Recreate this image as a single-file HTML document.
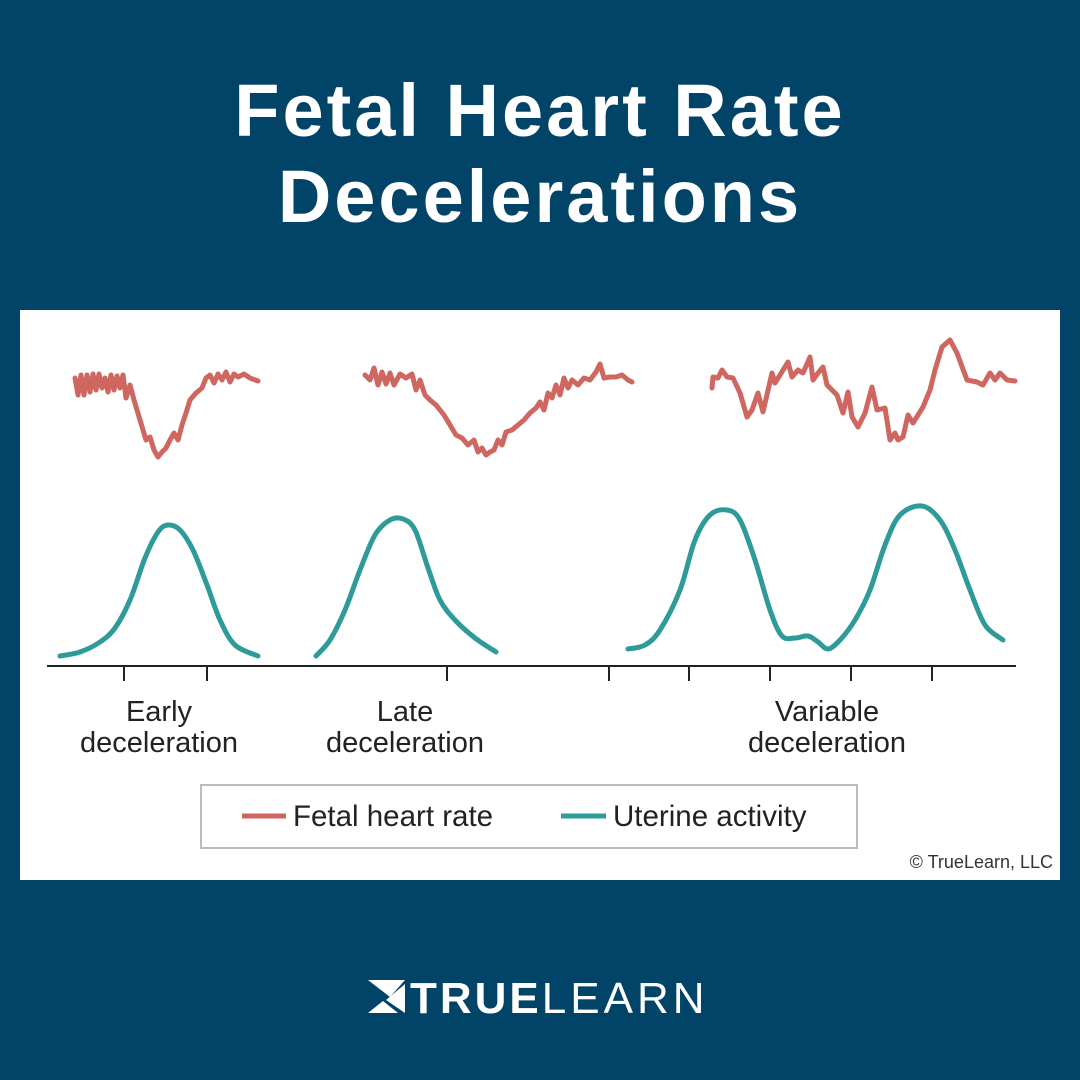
<!DOCTYPE html>
<html><head><meta charset="utf-8"><style>
html,body{margin:0;padding:0}
body{width:1080px;height:1080px;background:#014468;position:relative;overflow:hidden;font-family:"Liberation Sans",sans-serif}
.title{position:absolute;left:0;width:1080px;text-align:center;color:#fff;font-weight:bold;font-size:74px;letter-spacing:3px}
</style></head><body>
<div class="title" style="top:68px">Fetal Heart Rate</div>
<div class="title" style="top:154px">Decelerations</div>
<svg id="chart" width="1080" height="1080" style="position:absolute;left:0;top:0">
<rect x="20" y="310" width="1040" height="570" fill="#fff"/>
<line x1="47" y1="666" x2="1016" y2="666" stroke="#222" stroke-width="2"/>
<g id="ticks"></g><g id="series"></g>
<g font-size="29" fill="#222" text-anchor="middle">
<text x="159" y="721">Early</text>
<text x="159" y="752">deceleration</text>
<text x="405" y="721">Late</text>
<text x="405" y="752">deceleration</text>
<text x="827" y="721">Variable</text>
<text x="827" y="752">deceleration</text>
</g>
<g>
<rect x="201" y="785" width="656" height="63" fill="#fff" stroke="#bbb" stroke-width="2"/>
<line x1="242" y1="816" x2="286" y2="816" stroke="#cf6660" stroke-width="5"/>
<text x="293" y="826" font-size="29.5" fill="#222">Fetal heart rate</text>
<line x1="561" y1="816" x2="606" y2="816" stroke="#2e9a9a" stroke-width="5"/>
<text x="613" y="826" font-size="29.5" fill="#222">Uterine activity</text>
</g>
<text x="1053" y="868" font-size="18" fill="#333" text-anchor="end">© TrueLearn, LLC</text>
<g>
<polygon points="368,980 405,980 390,997" fill="#fff"/>
<polygon points="386,1000 405,984 405,1013" fill="#fff"/>
<polygon points="368,1013 383,1001 398,1013" fill="#fff"/>
<text x="410" y="1013" font-size="44" fill="#fff" font-weight="bold" letter-spacing="3">TRUE<tspan font-weight="normal" letter-spacing="4">LEARN</tspan></text>
</g>
</svg>
<script>
const tickTimes=[104,187,427,589,669,750,831,912];
const earlyT=[55,58,61,64,67,70,73,76,79,82,85,88,91,94,97,100,103,106,110,114,120,126,130,134,138,142,146,150,154,158,162,166,170,176,182,186,190,194,198,202,206,210,214,218,224,230,238];
const earlyFhr=[102,85,105,85,105,88,106,90,106,92,102,88,105,90,104,92,105,82,95,80,60,40,43,30,23,28,32,40,47,40,55,67,80,87,92,102,105,97,106,100,108,98,106,103,106,102,99];
const lateT=[345,350,354,358,362,366,370,374,380,386,392,396,400,405,410,416,424,430,436,442,448,454,458,462,466,470,474,478,482,486,492,498,504,510,516,520,524,528,532,536,540,544,548,552,558,564,570,576,580,584,590,596,602,608,612];
const lateFhr=[105,100,112,95,108,96,107,95,106,102,106,90,100,85,80,75,65,55,45,42,35,40,28,32,25,28,30,40,35,48,50,55,60,67,72,78,70,87,82,95,85,102,92,100,95,102,100,108,116,102,103,103,105,100,98];
const varT=[692,693,698,702,707,713,720,727,732,738,743,752,755,760,768,772,778,783,790,793,798,803,807,817,823,828,832,838,845,852,857,865,870,875,878,883,888,893,903,910,915,922,930,937,947,957,963,970,975,980,987,995];
const varFhr=[92,103,102,110,103,102,87,63,70,87,68,107,97,105,118,103,110,107,123,100,107,113,95,85,67,88,63,53,67,93,70,72,40,47,40,43,65,57,73,90,110,133,140,127,100,98,95,107,100,107,100,99];
const uaEarlyT=[40,60,80,95,110,125,138,148,160,173,187,200,215,238];
const uaEarly=[14,18,28,42,70,112,138,145,140,120,85,50,25,14];
const uaLateT=[296,310,325,340,355,370,383,395,408,420,435,455,476];
const uaLate=[14,30,60,100,135,150,151,140,102,70,50,32,18];
const uaVarT=[608,625,640,660,675,690,707,720,735,750,762,775,788,798,808,820,835,850,865,880,902,920,935,950,965,983];
const uaVar=[21,25,40,80,130,155,160,150,110,60,34,32,34,28,21,30,50,80,125,155,164,150,120,80,45,30];
const xS=t=>20+t, yF=v=>480-v, yU=v=>670-v;
const NS='http://www.w3.org/2000/svg';
const tg=document.getElementById('ticks'),sg=document.getElementById('series');
tickTimes.forEach(t=>{const l=document.createElementNS(NS,'line');


l.setAttribute('x1',xS(t));l.setAttribute('x2',xS(t));l.setAttribute('y1',666);l.setAttribute('y2',681);l.setAttribute('stroke','#222');l.setAttribute('stroke-width',2);tg.appendChild(l);});
function poly(T,V,ys,name,color){const p=document.createElementNS(NS,'polyline');


p.setAttribute('points',T.map((t,i)=>xS(t)+','+ys(V[i])).join(' '));
p.setAttribute('fill','none');p.setAttribute('stroke',color);p.setAttribute('stroke-width',5);p.setAttribute('stroke-linejoin','round');p.setAttribute('stroke-linecap','round');sg.appendChild(p);}
function smooth(T,V,ys,name,color){const P=T.map((t,i)=>[xS(t),ys(V[i])]);let d='M'+P[0][0]+','+P[0][1];
for(let i=0;i<P.length-1;i++){const p0=P[Math.max(0,i-1)],p1=P[i],p2=P[i+1],p3=P[Math.min(P.length-1,i+2)];
d+=` C${p1[0]+(p2[0]-p0[0])/6},${p1[1]+(p2[1]-p0[1])/6} ${p2[0]-(p3[0]-p1[0])/6},${p2[1]-(p3[1]-p1[1])/6} ${p2[0]},${p2[1]}`;}
const p=document.createElementNS(NS,'path');


p.setAttribute('d',d);p.setAttribute('fill','none');p.setAttribute('stroke',color);p.setAttribute('stroke-width',5);p.setAttribute('stroke-linecap','round');sg.appendChild(p);}
poly(earlyT,earlyFhr,yF,'fhr-early','#cf6660');
poly(lateT,lateFhr,yF,'fhr-late','#cf6660');
poly(varT,varFhr,yF,'fhr-variable','#cf6660');
smooth(uaEarlyT,uaEarly,yU,'ua-early','#2e9a9a');
smooth(uaLateT,uaLate,yU,'ua-late','#2e9a9a');
smooth(uaVarT,uaVar,yU,'ua-variable','#2e9a9a');
</script>
</body></html>
